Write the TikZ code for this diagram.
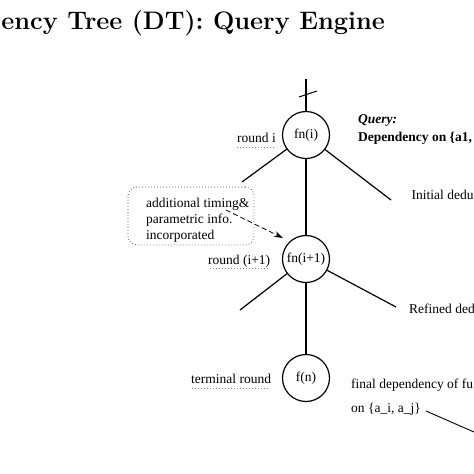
\documentclass[tikz,border=0pt]{standalone}
\usepackage{fontspec}
\newfontfamily\tms{Liberation Serif}
\usetikzlibrary{arrows.meta}
\begin{document}
\begin{tikzpicture}[x=1pt,y=-1pt,
  txt/.style={inner sep=0pt, anchor=base west, font=\tms\fontsize{13.5}{16}\selectfont},
  qtxt/.style={inner sep=0pt, anchor=base west, font=\tms\bfseries\fontsize{13.5}{16}\selectfont},
  rnd/.style={circle, draw, line width=1.2pt, minimum size=47pt, inner sep=0pt, font=\tms\fontsize{13.5}{16}\selectfont},
  edge/.style={line width=1.2pt},
  dotu/.style={line width=0.8pt, gray, dash pattern=on 0.8pt off 2.2pt},
  dotbox/.style={draw, line width=0.8pt, gray!70!black, dash pattern=on 0.8pt off 2.2pt, rounded corners=9pt, inner sep=0pt}]
\useasboundingbox (0,0) rectangle (474,474);
\clip (0,0) rectangle (474,474);
\fill[white] (0,0) rectangle (474,474);
% title
\node[inner sep=0pt, anchor=base east, font=\fontsize{25.3}{28}\selectfont\bfseries] (title) at (385,29.5) {ency Tree (DT): Query Engine};
% tree nodes
\node[rnd] (n1) at (306,135) {fn(i)};
\node[rnd] (n2) at (306,259) {fn(i+1)};
\node[rnd] (n3) at (306,378) {f(n)};
% top line and tick
\coordinate (top) at (306,79);
\draw[edge] (top) -- (n1);
\coordinate (t1) at (299,97);
\coordinate (t2) at (317,91);
\draw[line width=1pt] (t1) -- (t2);
% branches
\coordinate (l1) at (242,182);
\coordinate (r1) at (391,200);
\coordinate (l2) at (240,310);
\coordinate (r2) at (396,307);
\draw[edge] (n1) -- (l1);
\draw[edge] (n1) -- (r1);
\draw[edge] (n1) -- (n2);
\draw[edge] (n2) -- (l2);
\draw[edge] (n2) -- (r2);
\draw[edge] (n2) -- (n3);
% round labels
\node[txt] (ri) at (237,142) {round i};
\draw[dotu] (237,147) -- (275,147);
\node[txt] (ri1) at (208,264.5) {round (i+1)};
\draw[dotu] (210,268.5) -- (268,268.5);
\node[txt] (rt) at (191,383.5) {terminal round};
\draw[dotu] (192,388.5) -- (269,388.5);
% query
\node[qtxt, font=\tms\bfseries\itshape\fontsize{13.5}{16}\selectfont] (q) at (358,123) {Query:};
\node[qtxt] (dep) at (358,141) {Dependency on \{a1,};
% side labels
\node[txt] (init) at (411.5,199.5) {Initial dedu};
\node[txt] (ref) at (409,313) {Refined ded};
\node[txt] (fin) at (351,388.5) {final dependency of fu};
\node[txt] (on) at (351,412.5) {on \{a\_i, a\_j\}};
\coordinate (fa) at (426,411);
\coordinate (fb) at (490,439);
\draw[line width=0.9pt] (fa) -- (fb);
% info box
\node[dotbox, minimum width=126pt, minimum height=58pt] (box) at (191,216) {};
\node[txt] (info1) at (146,207.5) {additional timing\&};
\node[txt] (info2) at (146,223.5) {parametric info.};
\node[txt] (info3) at (146,239.5) {incorporated};
\coordinate (as) at (226,210);
\coordinate (ae) at (283,238);
\draw[line width=0.8pt, dash pattern=on 5pt off 3pt, -{Stealth[length=9pt,width=6pt]}] (as) -- (ae);
\end{tikzpicture}
\end{document}
